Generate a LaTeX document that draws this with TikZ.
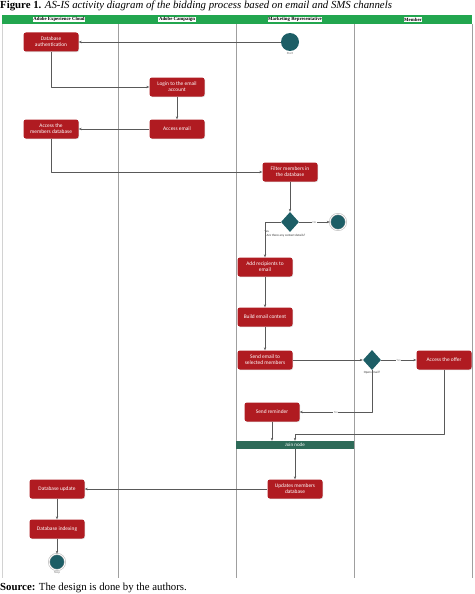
\documentclass[tikz,border=0pt]{standalone}
\usepackage{fontspec}
\setmainfont{Liberation Serif}
\newfontfamily\boxfont{Carlito}
\usetikzlibrary{arrows.meta,shapes.geometric,shadows}
\definecolor{actred}{HTML}{B01B21}
\definecolor{flowteal}{HTML}{1D5E66}
\definecolor{lanegreen}{HTML}{22A64F}
\definecolor{joingreen}{HTML}{2D6A58}
\begin{document}
\begin{tikzpicture}[x=1pt, y=-1pt, line join=round, >={Stealth[length=3pt,width=2.4pt]},
    action/.style={rectangle, rounded corners=2.5pt, fill=actred, text=white, align=center,
        font=\boxfont\fontsize{5.4}{6.2}\selectfont, minimum width=55pt, minimum height=19pt, inner sep=1pt,
        drop shadow={opacity=0.3, shadow xshift=0.7pt, shadow yshift=-0.7pt}},
    decision/.style={diamond, fill=flowteal, minimum width=18pt, minimum height=20pt, inner sep=0pt},
    startnode/.style={circle, fill=flowteal, minimum size=18pt, inner sep=0pt},
    stopnode/.style={circle, fill=flowteal, minimum size=16pt, inner sep=0pt, draw=gray!60,
        double=white, double distance=0.8pt, line width=0.5pt},
    lanehead/.style={fill=white, inner sep=0.6pt, font=\bfseries\fontsize{4.8}{5}\selectfont},
    lbl/.style={inner sep=0.5pt, text=black!80, font=\boxfont\fontsize{3.2}{3.6}\selectfont},
    flow/.style={->, draw=black!65, line width=0.5pt}]
    \def\top{24}
    \def\bot{578}
    \useasboundingbox (0,0) rectangle (474,594);
    % title and source
    \node[anchor=west, inner sep=0pt, font=\fontsize{10.8}{12}\selectfont] (title) at (0,6)
        {\textbf{Figure 1.} \textit{AS-IS activity diagram of the bidding process based on email and SMS channels}};
    \node[anchor=west, inner sep=0pt, font=\fontsize{10.8}{12}\selectfont] (source) at (0,588)
        {\textbf{Source:} The design is done by the authors.};
    % swimlanes
    \fill[lanegreen] (2,15) rectangle (472,24);
    \draw[gray!35, line width=0.6pt] (2,\top) -- (2,\bot);
    \foreach \x in {118,236,354,472}
        \draw[gray!75, line width=0.6pt] (\x,\top) -- (\x,\bot);
    \node[lanehead] (laneA) at (59,19.5) {Adobe Experience Cloud};
    \node[lanehead] (laneB) at (177,19.5) {Adobe Campaign};
    \node[lanehead] (laneC) at (295,19.5) {Marketing Representative};
    \node[lanehead] (laneD) at (413,19.5) {Member};
    % nodes
    \node[startnode] (start) at (290,42) {};
    \node[lbl, below=0.5pt, text=black!55] (startlbl) at (start.south) {Start};
    \node[action] (dbauth) at (51,42) {Database\\authentication};
    \node[action] (login) at (177,87) {Login to the email\\account};
    \node[action] (accmail) at (177,129) {Access email};
    \node[action] (accdb) at (51,129) {Access the\\members database};
    \node[action] (filter) at (290,172) {Filter members in\\the database};
    \node[decision] (contact) at (290,222) {};
    \node[stopnode] (finish) at (338,222) {};
    \node[lbl, anchor=south west] (yeslbl) at (264,233.5) {Yes};
    \node[lbl, anchor=north west] (contactlbl) at (266,233.5) {Are there any contact details?};
    \node[action] (addrec) at (265,267) {Add recipients to\\email};
    \node[action] (build) at (265,317) {Build email content};
    \node[action] (sendmail) at (265,360) {Send email to\\selected members};
    \node[decision] (opened) at (372,360) {};
    \node[lbl, anchor=north] (openedlbl) at (372,371) {Open email?};
    \node[action] (offer) at (444,360) {Access the offer};
    \node[action] (remind) at (272,412) {Send reminder};
    \node[rectangle, fill=joingreen, minimum width=118pt, minimum height=8pt, inner sep=0pt, text=white,
        font=\boxfont\fontsize{5}{5}\selectfont] (join) at (295,445) {Join node};
    \coordinate (joinin) at (295,434);
    \node[action] (updates) at (295,489) {Updates members\\database};
    \node[action] (dbupd) at (57,489) {Database update};
    \node[action] (dbidx) at (57,529) {Database indexing};
    \node[stopnode] (stop) at (57,562) {};
    \node[lbl, below=0.8pt, text=black!55] (stoplbl) at (stop.south) {Stop};
    % flows
    \draw[flow] (start) -- (dbauth);
    \draw[flow] (dbauth) |- (login);
    \draw[flow] (login) -- (accmail);
    \draw[flow] (accmail) -- (accdb);
    \draw[flow] (accdb) |- (filter);
    \draw[flow] (filter) -- (contact);
    \draw[flow] (contact) -- node[lbl, fill=white, text=black!45] (nolbl) {No} (finish);
    \draw[flow] (contact) -| (addrec);
    \draw[flow] (addrec) -- (build);
    \draw[flow] (build) -- (sendmail);
    \draw[flow] (sendmail) -- (opened);
    \draw[flow] (opened) -- node[lbl, fill=white, text=black!45] (yeslbl2) {Yes} (offer);
    \draw[flow] (opened) |- node[lbl, pos=0.75, fill=white, text=black!45] (nolbl2) {No} (remind);
    \draw[flow] (remind) -- (remind |- join.north);
    \draw[flow] (offer) |- (joinin) -- (join.north);
    \draw[flow] (join) -- (updates);
    \draw[flow] (updates) -- (dbupd);
    \draw[flow] (dbupd) -- (dbidx);
    \draw[flow] (dbidx) -- (stop);
\end{tikzpicture}
\end{document}
